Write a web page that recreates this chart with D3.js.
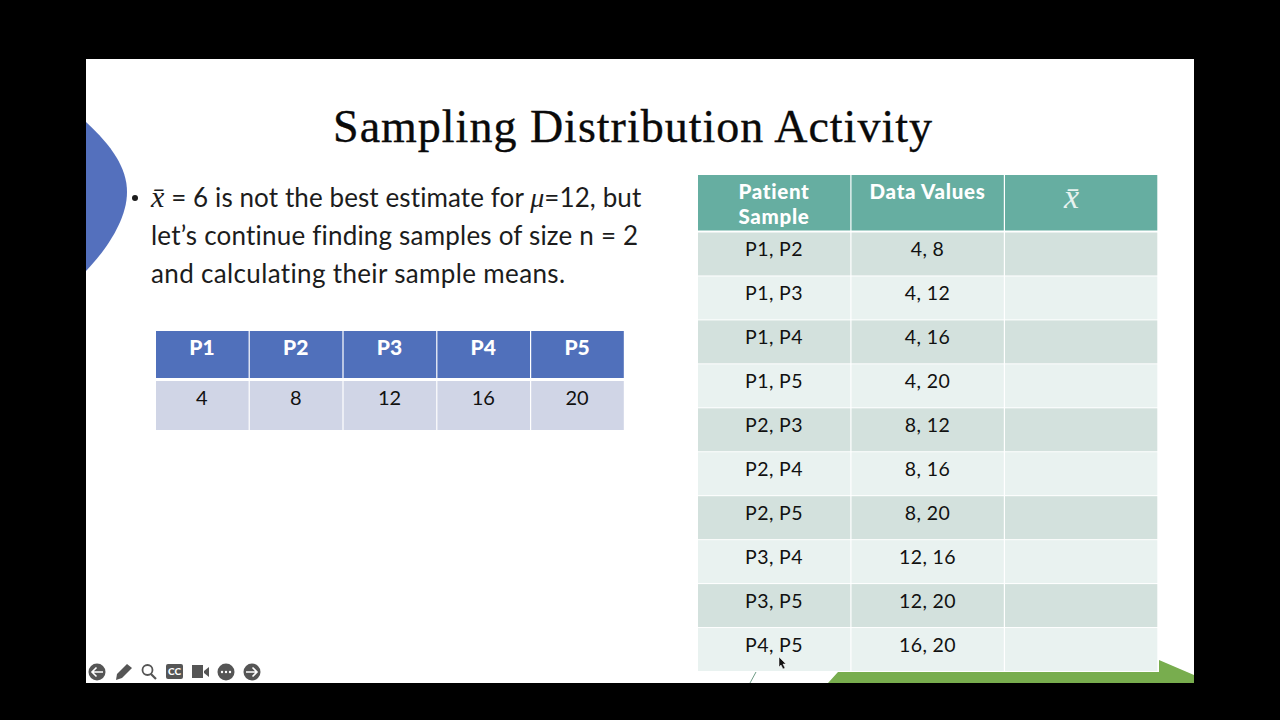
<!DOCTYPE html>
<html><head><meta charset="utf-8">
<script src="https://cdn.jsdelivr.net/npm/d3@7"></script>
<style>html,body{margin:0;padding:0;background:#000;overflow:hidden}svg{display:block}</style>
</head><body><svg id="c" width="1280" height="720"></svg>
<script>
const titleText = "Sampling Distribution Activity";
const patients = ["P1","P2","P3","P4","P5"];
const patientValues = ["4","8","12","16","20"];
const sampleHeaders = ["Patient Sample","Data Values","x̄"];
const sampleLabels = ["P1, P2","P1, P3","P1, P4","P1, P5","P2, P3","P2, P4","P2, P5","P3, P4","P3, P5","P4, P5"];
const sampleValues = ["4, 8","4, 12","4, 16","4, 20","8, 12","8, 16","8, 20","12, 16","12, 20","16, 20"];

const BODY = "Lato, 'Open Sans', sans-serif";
const svg = d3.select("#c");
svg.append("rect").attr("width",1280).attr("height",720).attr("fill","#000");
svg.append("rect").attr("x",86).attr("y",59).attr("width",1108).attr("height",624).attr("fill","#fff");

// decorations
svg.append("path").attr("d","M86,122 C112,146 127,168 127,192 C127,220 106,250 86,271 Z").attr("fill","#5470bd");
svg.append("path").attr("d","M828,683 L838,672 L1159,672 L1159,660 L1194,675 L1194,683 Z").attr("fill","#78ad4e");
svg.append("path").attr("d","M750,683 L756,672").attr("stroke","#6f9c86").attr("stroke-width",1).attr("fill","none");

// title
svg.append("text").attr("x",633).attr("y",141.5).attr("text-anchor","middle")
  .attr("font-family","'Liberation Serif',serif").attr("font-size",46).attr("letter-spacing",1)
  .attr("fill","#0a0a0a").attr("stroke","#0a0a0a").attr("stroke-width",0.35).text(titleText);

// bullet
const tx = (x,y,spacing,parts)=>{
  const t = svg.append("text").attr("x",x).attr("y",y).attr("font-family",BODY).attr("font-size",26).attr("letter-spacing",spacing).attr("fill","#1c1c1c");
  parts.forEach(p=>{const s=t.append("tspan").text(p.t); if(p.i){s.attr("font-family","'Liberation Serif',serif").attr("font-style","italic").attr("font-size",p.s||26)}});
  return t;
};
svg.append("circle").attr("cx",135).attr("cy",198).attr("r",3).attr("fill","#1c1c1c");
tx(151,207,0.1,[{t:"x̄",i:1,s:30},{t:"  = 6 is not the best estimate for "},{t:"μ",i:1,s:28},{t:"=12, but"}]);
tx(151,245,0.2,[{t:"let’s continue finding samples of size n = 2"}]);
tx(151,282.5,0.35,[{t:"and calculating their sample means."}]);

// patient table
const px = d3.scaleBand().domain(patients).range([156,625]);
const g1 = svg.append("g");
g1.selectAll(".h").data(patients).join("rect").attr("class","h")
  .attr("x",d=>px(d)).attr("y",331).attr("width",px.bandwidth()-1.2).attr("height",47).attr("fill","#5070bb");
g1.selectAll(".b").data(patients).join("rect").attr("class","b")
  .attr("x",d=>px(d)).attr("y",381).attr("width",px.bandwidth()-1.2).attr("height",49).attr("fill","#d0d5e6");
g1.selectAll(".ht").data(patients).join("text").attr("class","ht")
  .attr("x",d=>px(d)+px.bandwidth()/2-1).attr("y",354.5).attr("text-anchor","middle")
  .attr("font-family",BODY).attr("font-weight",900).attr("font-size",21).attr("fill","#fff").text(d=>d);
g1.selectAll(".bt").data(patientValues).join("text").attr("class","bt")
  .attr("x",(d,i)=>px(patients[i])+px.bandwidth()/2-1).attr("y",405).attr("text-anchor","middle")
  .attr("font-family",BODY).attr("font-size",20).attr("fill","#111").text(d=>d);

// sample table
const cx = d3.scaleBand().domain(d3.range(sampleHeaders.length)).range([698,1158.5]);
const ry = d3.scaleBand().domain(sampleLabels).range([232.5,672]);
const g2 = svg.append("g");
g2.selectAll(".hc").data(sampleHeaders).join("rect").attr("class","hc")
  .attr("x",(d,i)=>cx(i)).attr("y",175).attr("width",cx.bandwidth()-1.2).attr("height",55.5).attr("fill","#66aea1");
sampleLabels.forEach((lab,r)=>{
  g2.selectAll(".r"+r).data(sampleHeaders).join("rect").attr("class","r"+r)
    .attr("x",(d,i)=>cx(i)).attr("y",ry(lab)).attr("width",cx.bandwidth()-1.2).attr("height",ry.bandwidth()-1)
    .attr("fill",r%2?"#e9f2f0":"#d3e1dd");
});
const hs = {"font-family":BODY,"font-weight":900,"font-size":20.5,"letter-spacing":0.7,"fill":"#fff","text-anchor":"middle"};
const htext=(x,y,s)=>{const t=g2.append("text").attr("x",x).attr("y",y);Object.entries(hs).forEach(([k,v])=>t.attr(k,v));t.text(s);return t;};
const [w1,w2] = sampleHeaders[0].split(" ");
htext(cx(0)+76,198.5,w1); htext(cx(0)+76,223.5,w2);
htext(cx(1)+76,198.5,sampleHeaders[1]);
htext(cx(2)+67,208,sampleHeaders[2]).attr("font-family","'Liberation Serif',serif").attr("font-weight",400).attr("font-style","italic").attr("font-size",34).attr("fill","#e6f2ef");
g2.selectAll(".l").data(sampleLabels).join("text").attr("class","l")
  .attr("x",cx(0)+76).attr("y",d=>ry(d)+23.5).attr("text-anchor","middle")
  .attr("font-family",BODY).attr("font-size",19.5).attr("letter-spacing",0.4).attr("fill","#111").text(d=>d);
g2.selectAll(".v").data(sampleValues).join("text").attr("class","v")
  .attr("x",cx(1)+76).attr("y",(d,i)=>ry(sampleLabels[i])+23.5).attr("text-anchor","middle")
  .attr("font-family",BODY).attr("font-size",19.5).attr("letter-spacing",0.4).attr("fill","#111").text(d=>d);

// toolbar
const tb = svg.append("g");
const G="#555";
tb.append("circle").attr("cx",252).attr("cy",672).attr("r",8.5).attr("fill",G);
tb.append("path").attr("d","M246,672 H257 M252.5,667.5 L257,672 L252.5,676.5").attr("stroke","#fff").attr("stroke-width",1.6).attr("fill","none");
tb.append("circle").attr("cx",97).attr("cy",672).attr("r",8.5).attr("fill",G);
tb.append("path").attr("d","M103,672 H92 M96.5,667.5 L92,672 L96.5,676.5").attr("stroke","#fff").attr("stroke-width",1.6).attr("fill","none");
tb.append("path").attr("d","M116,680 L117,674 L127,664 L132,668 L122,678 Z").attr("fill",G);
tb.append("circle").attr("cx",147.5).attr("cy",670).attr("r",5).attr("fill","none").attr("stroke",G).attr("stroke-width",1.8);
tb.append("path").attr("d","M151,674 L156,679").attr("stroke",G).attr("stroke-width",2.2);
tb.append("rect").attr("x",166).attr("y",664).attr("width",17).attr("height",15).attr("rx",2).attr("fill",G);
tb.append("text").attr("x",174.5).attr("y",675).attr("text-anchor","middle").attr("font-family",BODY).attr("font-weight",900).attr("font-size",10).attr("fill","#fff").text("CC");
tb.append("rect").attr("x",192).attr("y",665).attr("width",11).attr("height",13).attr("fill",G);
tb.append("path").attr("d","M204,671 L209,667 V677 L204,673 Z").attr("fill",G);
tb.append("circle").attr("cx",226).attr("cy",672).attr("r",8.5).attr("fill",G);
[-4,0,4].forEach(d=>tb.append("circle").attr("cx",226+d).attr("cy",672).attr("r",1.2).attr("fill","#fff"));

// cursor
svg.append("path").attr("d","M779,657 L779,667 L781,665 L783,669 L785,668 L783,664 L786,664 Z").attr("fill","#111").attr("stroke","#fff").attr("stroke-width",.5);
</script></body></html>
